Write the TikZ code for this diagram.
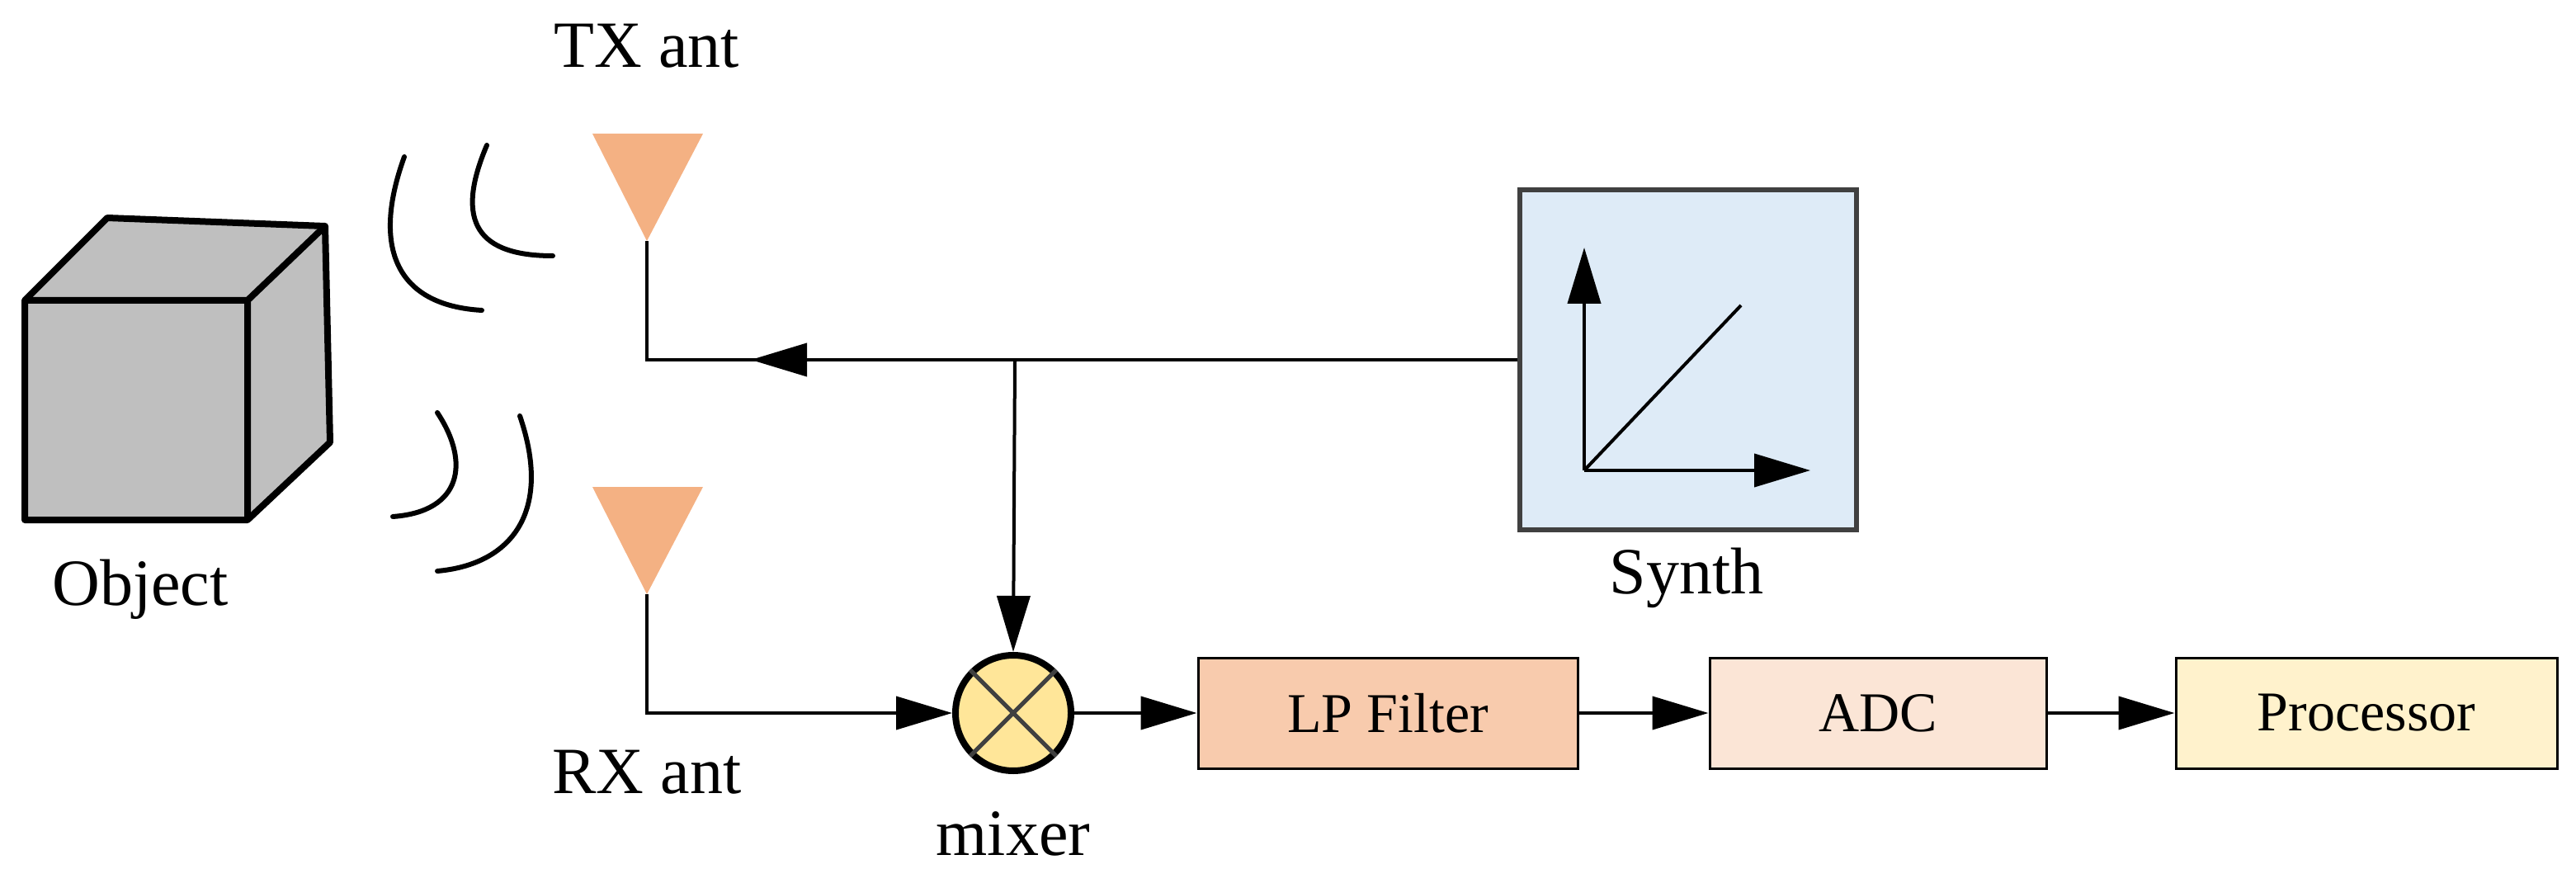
\documentclass[tikz,border=0pt]{standalone}
\usepackage{fontspec}
\setmainfont{Liberation Serif}
\usetikzlibrary{arrows.meta}
\definecolor{ant}{HTML}{F4B183}
\definecolor{lpc}{HTML}{F8CBAD}
\definecolor{adcc}{HTML}{FBE5D6}
\definecolor{proc}{HTML}{FFF2CC}
\definecolor{syn}{HTML}{DEEBF7}
\definecolor{mix}{HTML}{FFE699}
\begin{document}
\begin{tikzpicture}[x=1pt,y=-1pt,
  lbl/.style={font=\fontsize{40}{44}\selectfont},
  blk/.style={draw,line width=1.5pt,font=\fontsize{34}{38}\selectfont,inner sep=0pt},
  con/.style={line width=2pt,-{Triangle[length=34pt,width=20pt]}},
  wave/.style={line width=3pt,line cap=round}]
\useasboundingbox (0,0) rectangle (1561,526.5);
% cube
\draw[line width=4pt,fill={rgb,255:red,191;green,191;blue,191},line join=round]
  (15,182) -- (65,132) -- (197,137) -- (200,268) -- (150,315) -- (15,315) -- cycle;
\draw[line width=4pt,line join=round] (15,182) -- (150,182) -- (150,315) (150,182) -- (197,137);
\node[lbl] (obj) at (85,357) {Object};
% waves
\draw[wave] (245,95) .. controls (225,150) and (240,185) .. (292,188);
\draw[wave] (295,88) .. controls (275,135) and (290,155) .. (335,155);
\draw[wave] (265,250) .. controls (285,280) and (280,310) .. (238,313);
\draw[wave] (315,252) .. controls (335,310) and (310,342) .. (265,346);
% antennas
\fill[ant] (359,81) -- (426,81) -- (392,146) -- cycle;
\fill[ant] (359,295) -- (426,295) -- (392,360) -- cycle;
\coordinate (txb) at (392,146);
\coordinate (rxb) at (392,360);
\node[lbl] (txl) at (392,28) {TX ant};
\node[lbl] (rxl) at (392,468) {RX ant};
% synth
\node[draw={rgb,255:red,64;green,64;blue,64},line width=3pt,fill=syn,minimum width=204pt,minimum height=206pt,inner sep=0pt] (synth) at (1023,218) {};
\node[lbl] (synl) at (1022,350) {Synth};
\coordinate (o) at (960,285);
\draw[line width=2pt,-{Triangle[length=34pt,width=20pt]}] (o) -- (960,150);
\draw[line width=2pt,-{Triangle[length=34pt,width=20pt]}] (o) -- (1097,285);
\draw[line width=2pt] (o) -- (1055,185);
% mixer
\node[circle,draw,line width=4pt,fill=mix,minimum size=70pt,inner sep=0pt] (mixer) at (614,432) {};
\draw[line width=2.5pt,draw={rgb,255:red,64;green,64;blue,64}] (mixer.north west) -- (mixer.south east) (mixer.north east) -- (mixer.south west);
\node[lbl] (mixl) at (614,505) {mixer};
% blocks
\node[blk,fill=lpc,minimum width=230pt,minimum height=67pt] (lp) at (841,432) {LP Filter};
\node[blk,fill=adcc,minimum width=204pt,minimum height=67pt] (adc) at (1138,432) {ADC};
\node[blk,fill=proc,minimum width=231pt,minimum height=67pt] (pr) at (1434,432) {Processor};
% connectors
\coordinate (txc) at (392,218);
\coordinate (br) at (615,218);
\draw[line width=2pt] (synth.west) -- (txc) -- (txb);
\draw[line width=2pt,-{Triangle[length=34pt,width=20pt]}] (synth.west) -- (455,218);
\draw[con] (br) -- (mixer.north);
\draw[con] (rxb) |- (mixer.west);
\draw[con] (mixer.east) -- (lp.west);
\draw[con] (lp.east) -- (adc.west);
\draw[con] (adc.east) -- (pr.west);
\end{tikzpicture}
\end{document}
